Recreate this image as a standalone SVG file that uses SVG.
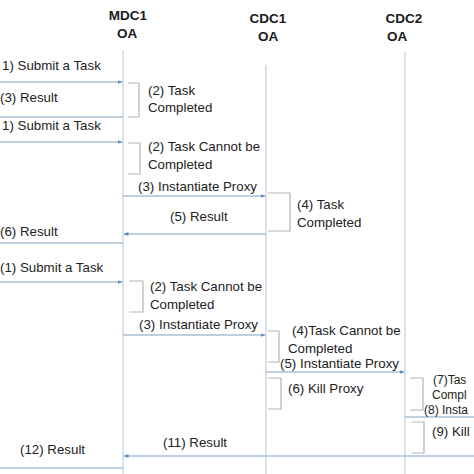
<svg xmlns="http://www.w3.org/2000/svg" width="474" height="474" viewBox="0 0 474 474">
<defs>
<style>
.hd{font-family:"Liberation Sans",Arial,sans-serif;font-weight:bold;font-size:13.5px;fill:#1a1a1a}
.t{font-family:"Liberation Sans",Arial,sans-serif;font-size:13.3px;fill:#222}
.s{font-size:12px}
.life{stroke:#c9d3da;stroke-width:1.3;fill:none}
.msg{stroke:#a9c1d5;stroke-width:1.3;fill:none}
.br{stroke:#b3b3b3;stroke-width:1.2;fill:none;stroke-linejoin:round}
</style>
<marker id="ah" viewBox="0 0 10 10" refX="9" refY="5" markerWidth="5" markerHeight="5" orient="auto" markerUnits="userSpaceOnUse">
<path d="M0,1 L10,5 L0,9 z" fill="#5f90bd"/>
</marker>
</defs>
<rect width="474" height="474" fill="#fff"/>
<g id="mdc1">
<text class="hd" x="128" y="20" text-anchor="middle">MDC1</text>
<text class="hd" x="127" y="38" text-anchor="middle">OA</text>
<line class="life" x1="123" y1="50" x2="123" y2="474"/>
</g>
<g id="cdc1">
<text class="hd" x="268" y="23" text-anchor="middle">CDC1</text>
<text class="hd" x="268" y="41" text-anchor="middle">OA</text>
<line class="life" x1="266" y1="65" x2="266" y2="474"/>
</g>
<g id="cdc2">
<text class="hd" x="404" y="23" text-anchor="middle">CDC2</text>
<text class="hd" x="387" y="41">OA</text>
<line class="life" x1="405" y1="52" x2="405" y2="474"/>
</g>
<g id="activations">
<path class="br" d="M128,83 H139 V117 H128"/>
<path class="br" d="M128,143 H140 V174 H128"/>
<path class="br" d="M268,193 H290 V231 H268"/>
<path class="br" d="M129,281 H143 V312 H129"/>
<path class="br" d="M268,331 H279 V362 H268"/>
<path class="br" d="M268,378 H281 V409 H268"/>
<path class="br" d="M410,378 H423 V410 H410"/>
<path class="br" d="M412,422 H424 V453 H412"/>
</g>
<g id="connectors">
<line class="msg" x1="0" y1="82" x2="122" y2="82" marker-end="url(#ah)"/>
<line class="msg" x1="123" y1="117" x2="0" y2="117"/>
<line class="msg" x1="0" y1="142" x2="122" y2="142" marker-end="url(#ah)"/>
<line class="msg" x1="123" y1="196" x2="265" y2="196" marker-end="url(#ah)"/>
<line class="msg" x1="266" y1="234" x2="124" y2="234" marker-end="url(#ah)"/>
<line class="msg" x1="123" y1="243" x2="0" y2="243"/>
<line class="msg" x1="0" y1="282" x2="122" y2="282" marker-end="url(#ah)"/>
<line class="msg" x1="123" y1="335" x2="265" y2="335" marker-end="url(#ah)"/>
<line class="msg" x1="266" y1="372" x2="404" y2="372" marker-end="url(#ah)"/>
<line class="msg" x1="405" y1="417" x2="474" y2="417"/>
<line class="msg" x1="474" y1="456" x2="124" y2="456" marker-end="url(#ah)"/>
<line class="msg" x1="123" y1="468" x2="0" y2="468"/>
</g>
<g id="labels">
<text class="t" x="2" y="70">1) Submit a Task</text>
<text class="t" x="148" y="95">(2) Task</text>
<text class="t" x="148" y="112">Completed</text>
<text class="t" x="0" y="102">(3) Result</text>
<text class="t" x="2" y="130">1) Submit a Task</text>
<text class="t" x="148" y="151">(2) Task Cannot be</text>
<text class="t" x="148" y="169">Completed</text>
<text class="t" x="138" y="191">(3) Instantiate Proxy</text>
<text class="t" x="297" y="209">(4) Task</text>
<text class="t" x="297" y="227">Completed</text>
<text class="t" x="170" y="221">(5) Result</text>
<text class="t" x="0" y="236">(6) Result</text>
<text class="t" x="0" y="272">(1) Submit a Task</text>
<text class="t" x="150" y="291">(2) Task Cannot be</text>
<text class="t" x="150" y="309">Completed</text>
<text class="t" x="139" y="329">(3) Instantiate Proxy</text>
<text class="t" x="292" y="335">(4)Task Cannot be</text>
<text class="t" x="288" y="353">Completed</text>
<text class="t" x="280" y="368">(5) Instantiate Proxy</text>
<text class="t" x="288" y="393">(6) Kill Proxy</text>
<text class="t s" x="433" y="384">(7)Tas</text>
<text class="t s" x="432" y="399">Compl</text>
<text class="t s" x="424" y="414">(8) Insta</text>
<text class="t" x="432" y="436">(9) Kill</text>
<text class="t" x="163" y="447">(11) Result</text>
<text class="t" x="20" y="454">(12) Result</text>
</g>
</svg>
